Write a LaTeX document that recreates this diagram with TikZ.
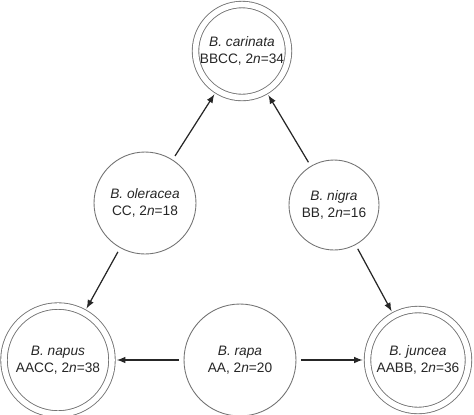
\documentclass[tikz,border=0pt]{standalone}
\usepackage{fontspec}
\setmainfont{Liberation Sans}
\usepackage{tikz}
\begin{document}
\begin{tikzpicture}[x=0.02cm, y=-0.02cm,
	species/.style={circle, draw=black!55, line width=0.5pt, inner sep=0pt, align=center, text=black!85, font=\fontsize{7.8}{10}\selectfont},
	hybrid/.style={species, double=white, double distance=3.2pt},
	cross/.style={black!85, line width=0.7pt, ->, >=latex, shorten <=2.5pt, shorten >=2.5pt}]
	\useasboundingbox (0, 0) rectangle (474, 414);
	\node[hybrid, minimum size=1.86cm] (carinata) at (242, 51) {\textit{B. carinata}\\BBCC, 2\textit{n}=34};
	\node[species, minimum size=2.04cm] (oleracea) at (145, 203) {\textit{B. oleracea}\\CC, 2\textit{n}=18};
	\node[species, minimum size=1.8cm] (nigra) at (334, 205) {\textit{B. nigra}\\BB, 2\textit{n}=16};
	\node[hybrid, minimum size=2.16cm] (napus) at (58, 360) {\textit{B. napus}\\AACC, 2\textit{n}=38};
	\node[species, minimum size=2.24cm] (rapa) at (240, 360) {\textit{B. rapa}\\AA, 2\textit{n}=20};
	\node[hybrid, minimum size=2.02cm] (juncea) at (418, 360) {\textit{B. juncea}\\AABB, 2\textit{n}=36};
	\draw[cross] (oleracea) -- (carinata);
	\draw[cross] (nigra) -- (carinata);
	\draw[cross] (oleracea) -- (napus);
	\draw[cross] (nigra) -- (juncea);
	\draw[cross] (rapa) -- (napus);
	\draw[cross] (rapa) -- (juncea);
\end{tikzpicture}
\end{document}
